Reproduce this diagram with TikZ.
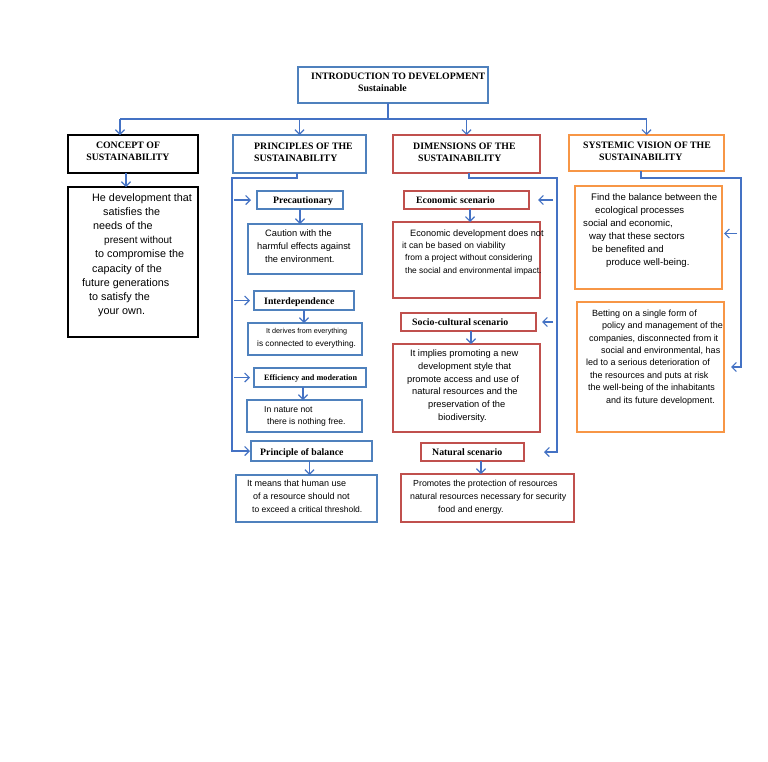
\documentclass[tikz,border=0pt]{standalone}
\usepackage{fontspec}
\setmainfont{Liberation Serif}
\newfontfamily\arialf{Liberation Sans}
\usetikzlibrary{arrows.meta,calc}
\definecolor{cblue}{RGB}{68,114,196}
\definecolor{bblue}{RGB}{79,129,189}
\definecolor{cred}{RGB}{192,80,77}
\definecolor{corange}{RGB}{247,150,70}
\newcommand\fs[2]{\fontsize{#1}{#2}\selectfont}
\begin{document}
\begin{tikzpicture}[x=1pt,y=1pt,
  bx/.style={draw, line width=1.6pt, anchor=north west, inner sep=0pt, outer sep=0pt},
  bluebox/.style={bx, draw=bblue},
  redbox/.style={bx, draw=cred},
  orbox/.style={bx, draw=corange},
  blkbox/.style={bx, draw=black, line width=2pt},
  hd/.style={inner sep=0pt, align=left, anchor=north west, font=\bfseries\fs{9.8}{12.8}},
  sh/.style={inner sep=0pt, anchor=base west, font=\bfseries\fs{9.8}{12}},
  bt/.style={anchor=north west, inner sep=0pt, align=left},
  ln/.style={draw=cblue, line width=1.3pt},
  arr/.style={ln, -{Straight Barb[length=4.5pt,width=9pt,line width=1.2pt]}},
]
\fill[white] (0,0) rectangle (768,-761);
\useasboundingbox (0,0) rectangle (768,-761);

% ---------- boxes ----------
\node[bluebox, minimum width=190pt, minimum height=36pt] (title) at (298,-67) {};
\node[blkbox, minimum width=130pt, minimum height=38pt] (conc) at (68,-135) {};
\node[blkbox, minimum width=130pt, minimum height=150pt] (ctext) at (68,-187) {};
\node[bluebox, minimum width=133pt, minimum height=38pt] (prin) at (233,-135) {};
\node[bluebox, minimum width=86pt, minimum height=18pt] (prec) at (257,-191) {};
\node[bluebox, minimum width=114pt, minimum height=50pt] (caut) at (248,-224) {};
\node[bluebox, minimum width=100pt, minimum height=19pt] (inter) at (254,-291) {};
\node[bluebox, minimum width=114pt, minimum height=32pt] (deriv) at (248,-323) {};
\node[bluebox, minimum width=112pt, minimum height=19pt] (effic) at (254,-368) {};
\node[bluebox, minimum width=115pt, minimum height=32pt] (natur) at (247,-400) {};
\node[bluebox, minimum width=121pt, minimum height=20pt] (bal) at (251,-441) {};
\node[bluebox, minimum width=141pt, minimum height=47pt] (means) at (236,-475) {};
\node[redbox, minimum width=147pt, minimum height=38pt] (dim) at (393,-135) {};
\node[redbox, minimum width=125pt, minimum height=18pt] (econ) at (404,-191) {};
\node[redbox, minimum width=147pt, minimum height=76pt] (etext) at (393,-222) {};
\node[redbox, minimum width=135pt, minimum height=18pt] (socio) at (401,-313) {};
\node[redbox, minimum width=147pt, minimum height=88pt] (stext) at (393,-344) {};
\node[redbox, minimum width=103pt, minimum height=18pt] (nat) at (421,-443) {};
\node[redbox, minimum width=173pt, minimum height=48pt] (ntext) at (401,-474) {};
\node[orbox, minimum width=155pt, minimum height=36pt] (sys) at (569,-135) {};
\node[orbox, minimum width=147pt, minimum height=103pt] (find) at (575,-186) {};
\node[orbox, minimum width=147pt, minimum height=130pt] (bet) at (577,-302) {};

% ---------- headings ----------
\node[hd] (titlet) at (311,-72.5) {INTRODUCTION TO DEVELOPMENT\\\hspace*{47pt}Sustainable};
\node[hd, align=center, anchor=north] (conct) at (128,-141.5) {CONCEPT OF\\SUSTAINABILITY};
\node[hd] (print) at (254,-142.5) {PRINCIPLES OF THE\\SUSTAINABILITY};
\node[hd] (dimt) at (413,-142.5) {DIMENSIONS OF THE\\\hspace*{5pt}SUSTAINABILITY};
\node[hd] (syst) at (583,-141.5) {SYSTEMIC VISION OF THE\\\hspace*{16pt}SUSTAINABILITY};

\node[sh] (prect) at (273,-203.5) {Precautionary};
\node[sh] (intert) at (264,-304) {Interdependence};
\node[sh, font=\bfseries\fs{8.2}{10}] (effict) at (264,-380.5) {Efficiency and moderation};
\node[sh] (balt) at (260,-455) {Principle of balance};
\node[sh] (econt) at (416,-203.5) {Economic scenario};
\node[sh] (sociot) at (412,-325.5) {Socio-cultural scenario};
\node[sh] (natt) at (432,-455.5) {Natural scenario};

% ---------- body texts ----------
\node[bt, font=\arialf\fs{10.8}{14.2}] (ctxt) at (82,-193) {%
\hspace*{10pt}He development that\\
\hspace*{21pt}satisfies the\\
\hspace*{11pt}needs of the\\
\hspace*{22pt}{\fs{10}{14.2}present without}\\
\hspace*{13pt}to compromise the\\
\hspace*{10pt}capacity of the\\
future generations\\
\hspace*{7pt}to satisfy the\\
\hspace*{16pt}your own.};

\node[bt, font=\arialf\fs{9.3}{13}] (cautt) at (257,-229.5) {%
\hspace*{8pt}Caution with the\\
harmful effects against\\
\hspace*{8pt}the environment.};

\node[bt, font=\arialf\fs{8.3}{13}] (derivt) at (257,-328) {%
\hspace*{9pt}{\fs{7.2}{13}It derives from everything}\\
is connected to everything.};

\node[bt, font=\arialf\fs{8.6}{12}] (naturt) at (264,-406.5) {%
In nature not\\
\hspace*{3pt}there is nothing free.};

\node[bt, font=\arialf\fs{9}{13}] (meanst) at (247,-479.5) {%
It means that human use\\
\hspace*{6pt}of a resource should not\\
\hspace*{5pt}{\fs{8.5}{13}to exceed a critical threshold.}};

\node[bt, font=\arialf\fs{9.2}{12.3}] (etextt) at (402,-229.5) {%
\hspace*{8pt}Economic development does not\\
{\fs{8.8}{12.3}it can be based on viability}\\
\hspace*{3pt}{\fs{8.5}{12.3}from a project without considering}\\
\hspace*{3pt}{\fs{8.4}{12.3}the social and environmental impact.}};

\node[bt, font=\arialf\fs{9.3}{12.8}] (stextt) at (407,-349.5) {%
\hspace*{3pt}It implies promoting a new\\
\hspace*{11pt}development style that\\
promote access and use of\\
\hspace*{5pt}natural resources and the\\
\hspace*{21pt}preservation of the\\
\hspace*{31pt}biodiversity.};

\node[bt, font=\arialf\fs{8.8}{13}] (ntextt) at (410,-479.8) {%
\hspace*{3pt}Promotes the protection of resources\\
natural resources necessary for security\\
\hspace*{28pt}food and energy.};

\node[bt, font=\arialf\fs{9.6}{13}] (findt) at (583,-193.5) {%
\hspace*{8pt}Find the balance between the\\
\hspace*{12pt}ecological processes\\
social and economic,\\
\hspace*{6pt}way that these sectors\\
\hspace*{9pt}be benefited and\\
\hspace*{23pt}produce well-being.};

\node[bt, font=\arialf\fs{9}{12.4}] (bett) at (586,-309.5) {%
\hspace*{6pt}Betting on a single form of\\
\hspace*{16pt}policy and management of the\\
\hspace*{3pt}companies, disconnected from it\\
\hspace*{15pt}social and environmental, has\\
led to a serious deterioration of\\
\hspace*{4pt}the resources and puts at risk\\
\hspace*{2pt}the well-being of the inhabitants\\
\hspace*{20pt}and its future development.};

% ---------- connectors ----------
\coordinate (bus) at (388,-119);
\coordinate (busL) at (120,-119);
\coordinate (busR) at (647,-119);
\draw[ln] (bus |- title.south) -- (bus);
\draw[ln] (busL) -- (busR);
\draw[arr] (busL) -- (busL |- conc.north);
\draw[arr] (prin.north |- bus) -- (prin.north);
\draw[arr] (dim.north |- bus) -- (dim.north);
\draw[arr] (sys.north |- bus) -- (sys.north);
\draw[arr] ([xshift=-7pt]conc.south) -- ([xshift=-7pt]ctext.north);

% principles
\coordinate (ps) at (232,-178);
\draw[arr] ([xshift=-2.5pt]prin.south) |- (ps) |- ([xshift=-1pt]bal.west);
\draw[arr] ($(ps |- prec.west)+(2,0)$) -- ($(prec.west)+(-6,0)$);
\draw[arr] ($(ps |- inter.west)+(2,0)$) -- ($(inter.west)+(-4,0)$);
\draw[arr] ($(ps |- effic.west)+(2,0)$) -- ($(effic.west)+(-4,0)$);
\draw[arr] (prec.south) -- (prec.south |- caut.north);
\draw[arr] (inter.south) -- (inter.south |- deriv.north);
\draw[arr] ([xshift=-7pt]effic.south) -- ([xshift=-7pt]effic.south |- natur.north);
\draw[arr] ([xshift=-2pt]bal.south) -- ([xshift=-2pt]bal.south |- means.north);

% dimensions
\coordinate (ds) at (557,-178);
\draw[arr] ([xshift=2.5pt]dim.south) |- (ds) |- ($(nat.east)+(20,0)$);
\draw[arr] ($(ds |- econ.east)+(-4,0)$) -- ($(econ.east)+(9,0)$);
\draw[arr] ($(ds |- socio.east)+(-4,0)$) -- ($(socio.east)+(6,0)$);
\draw[arr] ([xshift=3.5pt]econ.south) -- ([xshift=3.5pt]econ.south |- etext.north);
\draw[arr] ([xshift=2.5pt]socio.south) -- ([xshift=2.5pt]socio.south |- stext.north);
\draw[arr] ([xshift=8.5pt]nat.south) -- ([xshift=8.5pt]nat.south |- ntext.north);

% systemic
\coordinate (ss) at (741,-178);
\draw[arr] ([xshift=-5.5pt]sys.south) |- (ss) |- ($(bet.east)+(7,0)$);
\draw[arr] ($(ss |- find.east)+(-4,4)$) -- ($(find.east)+(2,4)$);
\end{tikzpicture}
\end{document}
